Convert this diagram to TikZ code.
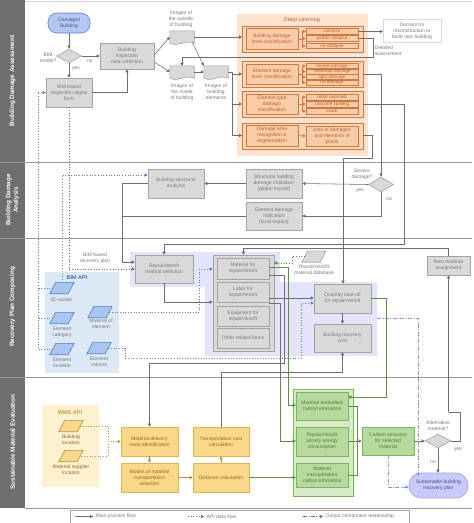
\documentclass[tikz,border=0pt]{standalone}
\usepackage{fontspec}
\setmainfont{Liberation Sans}
\usetikzlibrary{shapes.geometric,arrows.meta,calc}
\definecolor{lanebar}{HTML}{6E6E6E}
\definecolor{laneline}{HTML}{9A9A9A}
\definecolor{gfill}{HTML}{D9D9D9}
\definecolor{gdraw}{HTML}{A3A3A3}
\definecolor{gtext}{HTML}{7A7A7A}
\definecolor{arr}{HTML}{6E6E6E}
\definecolor{ocont}{HTML}{FCE4D1}
\definecolor{ogrp}{HTML}{F7CCA9}
\definecolor{odraw}{HTML}{D0773D}
\definecolor{otext}{HTML}{C0622A}
\definecolor{bfill}{HTML}{A9C6F2}
\definecolor{bdraw}{HTML}{4F81C7}
\definecolor{bcont}{HTML}{DCE8F6}
\definecolor{btext}{HTML}{3D6DB5}
\definecolor{yfill}{HTML}{F9D889}
\definecolor{ydraw}{HTML}{E3B54E}
\definecolor{ycont}{HTML}{FDF1CF}
\definecolor{ytext}{HTML}{8A6A20}
\definecolor{ydot}{HTML}{B8962E}
\definecolor{grfill}{HTML}{B6D9A0}
\definecolor{grdraw}{HTML}{7FB35C}
\definecolor{grcont}{HTML}{D8EBC9}
\definecolor{grtext}{HTML}{4F7F30}
\definecolor{grline}{HTML}{5E8F3E}
\definecolor{lav}{HTML}{E4E4FB}
\definecolor{pfill}{HTML}{CACAFA}
\definecolor{pdraw}{HTML}{9C9CEB}
\definecolor{ptext}{HTML}{4A4A9A}
\definecolor{dashc}{HTML}{8F8FE0}
\definecolor{dmgfill}{HTML}{B4C7F0}
\definecolor{dmgdraw}{HTML}{5C7FD0}
\tikzset{
  every node/.style={font=\fontsize{5}{5.8}\selectfont, align=center, inner sep=0.5pt},
  sz/.style n args={2}{minimum width=#1pt, minimum height=#2pt},
  gbox/.style={rectangle, draw=gdraw, fill=gfill, text=gtext, line width=0.6pt},
  obox/.style={rectangle, draw=odraw, fill=ogrp, text=otext, line width=0.6pt},
  osub/.style={rectangle, draw=odraw, fill=ogrp, text=otext, line width=0.6pt, font=\fontsize{4.6}{5}\selectfont, inner sep=0pt},
  ogrpst/.style={draw=odraw, fill=ogrp!80!white, line width=0.9pt},
  ybox/.style={rectangle, draw=ydraw, fill=yfill, text=ytext, line width=0.6pt},
  grbox/.style={rectangle, draw=grdraw, fill=grfill, text=grtext, line width=0.6pt},
  bparast/.style={draw=bdraw, fill=bfill, line width=0.6pt},
  yparast/.style={draw=ydraw!80!black, fill=yfill, line width=0.6pt},
  gparast/.style={draw=gdraw, fill=gfill, line width=0.6pt},
  gdia/.style={diamond, draw=gdraw, fill=gfill, line width=0.6pt, inner sep=0pt},
  lbl/.style={text=gtext},
  tip/.style={-{Triangle[length=3pt,width=3.2pt]}},
  flow/.style={draw=arr, line width=0.55pt, tip},
  lin/.style={draw=arr, line width=0.55pt},
  oflow/.style={draw=odraw, line width=0.55pt, tip},
  api/.style={draw=bdraw, line width=0.7pt, dotted, tip},
  apil/.style={draw=bdraw, line width=0.7pt, dotted},
  gapi/.style={draw=arr, line width=0.7pt, dotted, tip},
  yapi/.style={draw=ydot, line width=0.7pt, dotted, tip},
  yapil/.style={draw=ydot, line width=0.7pt, dotted},
  grflow/.style={draw=grline, line width=0.6pt, tip},
  grlin/.style={draw=grline, line width=0.6pt},
  outp/.style={draw=dashc, line width=0.7pt, dash pattern=on 4pt off 1.5pt on 0.8pt off 1.5pt, tip},
  laneln/.style={draw=laneline, line width=0.6pt},
  lanetxt/.style={text=white, rotate=90, font=\fontsize{6.3}{7.3}\selectfont\bfseries}
}
\newcommand\docnode[3]{%
  \node[sz={24}{12}, inner sep=0pt] (#1) at (#2,#3) {};
  \draw[draw=gdraw, fill=gfill, line width=0.6pt] (#1.south west) -- (#1.north west) -- (#1.north east) -- (#1.south east) .. controls +(-8,-4) and +(8,4) .. (#1.south west) -- cycle;}
\newcommand\paranode[4]{%
  \node[sz={18}{11}, inner sep=0pt] (#1) at (#2,#3) {};
  \draw[#4] ($(#1.south west)+(-3,0)$) -- ($(#1.north west)+(3,0)$) -- ($(#1.north east)+(3,0)$) -- ($(#1.south east)+(-3,0)$) -- cycle;}
\begin{document}
\begin{tikzpicture}[x=1pt,y=-1pt]
\useasboundingbox (0,0) rectangle (474,523);
% ---------- lanes ----------
\fill[lanebar] (0,0) rectangle (25,508);
\foreach \yy in {162,238,377} \draw[draw=lanebar!70!white, line width=0.5pt] (0,\yy) -- (25,\yy);
\foreach \yy in {162,238,377,508} \draw[laneln] (25,\yy) -- (472,\yy);
\draw[draw=laneline!40!white, line width=0.5pt] (25,1.5) -- (472,1.5);
\node[lanetxt] (l1) at (12.5,81) {Building Damage Assessment};
\node[lanetxt] (l2) at (12.5,200) {Building Damage\\Analysis};
\node[lanetxt] (l3) at (12.5,307) {Recovery Plan Composing};
\node[lanetxt] (l4) at (12.5,442) {Sustainable Material Evaluation};
% ---------- containers ----------
\fill[ocont] (237,14) rectangle (368,156);
\node[text=otext, font=\fontsize{5.5}{6}\selectfont] (dltitle) at (302,20) {Deep Learning};
\draw[ogrpst] (242,26) rectangle (363,52);
\draw[ogrpst] (242,61) rectangle (363,87);
\draw[ogrpst] (242,91) rectangle (363,117);
\draw[ogrpst] (242,123) rectangle (363,149);
\fill[bcont] (45,272) rectangle (119,373);
\node[text=btext, font=\fontsize{5.5}{6}\selectfont\bfseries] (bimapi) at (77,278) {BIM API};
\fill[ycont] (42,405) rectangle (99,487);
\node[text=ydraw!85!black, font=\fontsize{5.5}{6}\selectfont\bfseries] (wmsapi) at (70,413) {WMS API};
\fill[lav] (130,252) -- (280,252) -- (280,282) -- (377,282) -- (377,356) -- (205,356) -- (205,287) -- (130,287) -- cycle;
\draw[draw=grdraw, fill=grcont, line width=0.7pt] (293,389) rectangle (353,496);
% ---------- lane 1 nodes ----------
\node[rectangle, rounded corners=9pt, draw=dmgdraw, fill=dmgfill, text=dmgdraw!70!black, line width=0.6pt, sz={42}{20}] (dmg) at (69,23) {Damaged\\Building};
\node[gdia, sz={25}{14}] (bimq) at (69,56) {};
\node[lbl, anchor=east] (bimql) at (57,58) {BIM\\model?};
\node[lbl] (nol) at (90,61) {no};
\node[lbl] (yesl) at (76,69) {yes};
\node[gbox, sz={46}{29}] (form) at (69,92.5) {BIM based\\inspection digital\\form};
\node[gbox, sz={54}{26}] (coll) at (127,56) {Building\\inspection\\data collection};
\docnode{dout}{182}{37}
\docnode{din}{182}{72}
\docnode{del}{216}{72}
\node[lbl] (doutl) at (181,19) {Images of\\the outside\\of building};
\node[lbl] (dinl) at (182,92) {Images of\\the inside\\of building};
\node[lbl] (dell) at (216,92) {Images of\\building\\elements};
% deep learning boxes
\node[obox, sz={52}{21}] (bdl) at (272,39) {Building damage\\level classification};
\node[obox, sz={52}{20}] (edl) at (272,74) {Element damage\\level classification};
\node[obox, sz={52}{20}] (etd) at (272,104) {Element type\\damage\\classification};
\node[obox, sz={52}{21}] (dar) at (272,135.5) {Damage area\\recognition \&\\segmentation};
\node[osub, sz={52}{5.5}] (s11) at (332,31.5) {collapse};
\node[osub, sz={52}{5.5}] (s12) at (332,38.5) {partial collapse};
\node[osub, sz={52}{5.5}] (s13) at (332,46) {no collapse};
\node[osub, sz={52}{4.6}] (s21) at (332,66) {severe damage};
\node[osub, sz={52}{4.6}] (s22) at (332,71.5) {moderate damage};
\node[osub, sz={52}{4.6}] (s23) at (332,77) {light damage};
\node[osub, sz={52}{4.6}] (s24) at (332,82.5) {no damage};
\node[osub, sz={52}{5.8}] (s31) at (332,97) {rebar exposed};
\node[osub, sz={52}{5.8}] (s32) at (332,104) {concrete spalling};
\node[osub, sz={52}{5.8}] (s33) at (332,111) {crack};
\node[osub, sz={52}{20}, font=\fontsize{5}{5.8}\selectfont] (s41) at (332,136) {area of damages\\and elements in\\pixels};
\node[rectangle, draw=gdraw!40!white, line width=0.4pt, text=gtext, sz={58}{23}] (dec) at (412,31) {Decision to\\reconstruction or\\build new building};
\node[lbl, anchor=west, align=left] (detl) at (374,51) {Detailed\\assessment};
% ---------- lane 2 nodes ----------
\node[gbox, sz={56}{29}] (bsa) at (176,183.5) {Building structural\\analysis};
\node[gbox, sz={56}{29}] (sbd) at (274,183.5) {Structural building\\damage indication\\(global impact)};
\node[gbox, sz={56}{28}] (edi) at (274,216) {Element damage\\indication\\(local impact)};
\node[gdia, sz={25}{15}] (sev) at (381,184.5) {};
\node[lbl] (sevl) at (362,174) {Severe\\damage?};
\node[lbl] (sevy) at (360,191) {yes};
\node[lbl] (sevn) at (389,199) {no};
% ---------- lane 3 nodes ----------
\node[gbox, sz={58}{28}] (rms) at (164,269) {Repair/retrofit\\method selection};
\node[rectangle, draw=gdraw, fill=gfill, line width=0.6pt, sz={61}{96}] (mgrp) at (243.5,303) {};
\node[gbox, sz={52}{21}] (mfr) at (243,268.5) {Material for\\repair/retrofit};
\node[gbox, sz={52}{20}] (lfr) at (243,292) {Labor for\\repair/retrofit};
\node[gbox, sz={52}{20}] (efr) at (243,316) {Equipment for\\repair/retrofit};
\node[gbox, sz={52}{20}] (ori) at (243,338) {Other related items};
\paranode{rdb}{314}{256.5}{gparast}
\node[lbl] (rdbl) at (314,270) {Repair/retrofit\\material database};
\node[gbox, sz={57}{29}] (qto) at (342.5,298.5) {Quantity take-off\\for repair/retrofit};
\node[gbox, sz={57}{28}] (brc) at (342.5,338) {Building recovery\\cost};
\node[gbox, sz={43}{19}] (nma) at (448.5,265.5) {New material\\assignment};
% BIM API
\paranode{p3d}{62}{288}{bparast}
\paranode{pcat}{62}{318}{bparast}
\paranode{ploc}{62}{349}{bparast}
\paranode{pmat}{100}{312}{bparast}
\paranode{pvol}{99}{348}{bparast}
\node[lbl] (p3dl) at (61,300) {3D model};
\node[lbl] (pcatl) at (62,332) {Element\\category};
\node[lbl] (plocl) at (62,363) {Element\\location};
\node[lbl] (pmatl) at (101,324) {Material of\\element};
\node[lbl] (pvoll) at (99,362) {Element\\volume};
\node[lbl] (brpl) at (95,258) {BIM based\\recovery plan};
% ---------- lane 4 nodes ----------
\paranode{pbl}{71}{426}{yparast}
\paranode{pms}{71}{456}{yparast}
\node[text=ytext] (pbll) at (71,440) {Building\\location};
\node[text=ytext] (pmsl) at (71,470) {Material supplier\\location};
\node[ybox, sz={57}{29}] (mdr) at (149.5,441.5) {Material delivery\\route identification};
\node[ybox, sz={57}{29}] (mts) at (149.5,477.5) {Modes of material\\transportation\\selection};
\node[ybox, sz={56}{29}] (tcc) at (221,441.5) {Transportation cost\\calculation};
\node[ybox, sz={56}{29}] (dc) at (221,477.5) {Distance calculation};
\node[grbox, sz={52}{28}] (mec) at (322,406) {Material embodied\\carbon emissions};
\node[grbox, sz={52}{29}] (rae) at (322,441.5) {Repair/retrofit\\activity energy\\consumption};
\node[grbox, sz={52}{24}] (mtc) at (322,475) {Material\\transportation\\carbon emissions};
\node[grbox, sz={52}{28}] (cesm) at (388,441) {Carbon emission\\for selected\\material};
\node[gdia, sz={26}{14}] (alt) at (438,441) {};
\node[lbl] (altl) at (438,426) {Alternative\\material?};
\node[lbl] (alty) at (458,450) {yes};
\node[lbl] (altn) at (433,462) {no};
\node[rectangle, rounded corners=12pt, draw=pdraw, fill=pfill, text=ptext, line width=0.6pt, sz={59}{25}] (sbp) at (438.5,485.5) {Sustainable building\\recovery plan};
% ---------- connectors lane 1 ----------
\draw[flow] (dmg) -- (bimq);
\draw[flow] (bimq) -- (form);
\draw[flow] (bimq) -- (coll);
\draw[flow] (form.east) -| (coll.south);
\draw[flow] ($(coll.east)+(0,-1)$) -- (dout.west);
\draw[flow] ($(coll.east)+(0,6)$) -- (din.west);
\draw[flow] ($(dout.south east)+(-2,-1)$) -- (del.north west);
\draw[flow] (din.east) -- (del.west);
\draw[flow] (dout.east) -- (dout.east -| 242,0);
\draw[lin] (del.east) -- ++(4,0) coordinate (bus) -- (bus |- 0,136);
\draw[flow] (bus |- edl.west) -- (edl.west -| 242,0);
\draw[flow] (bus |- etd.west) -- (etd.west -| 242,0);
\draw[flow] (bus |- dar.west) -- (dar.west -| 242,0);
% orange internal arrows
\draw[draw=odraw, line width=0.55pt] (bdl.east) -- (302,39) (302,31.5) -- (302,46);
\foreach \s in {s11,s12,s13} \draw[oflow] (\s.west -| 302,0) -- (\s.west);
\draw[draw=odraw, line width=0.55pt] (edl.east) -- (302,74) (302,66) -- (302,82.5);
\foreach \s in {s21,s22,s23,s24} \draw[oflow] (\s.west -| 302,0) -- (\s.west);
\draw[draw=odraw, line width=0.55pt] (etd.east) -- (302,104) (302,97) -- (302,111);
\foreach \s in {s31,s32,s33} \draw[oflow] (\s.west -| 302,0) -- (\s.west);
\draw[oflow] (dar.east) -- (s41.west);
\draw[flow] (s11.east) -- (dec.west |- s11.east);
\draw[flow] (s12.east) -- (373,38.5) -- (373,57) -- (182,57) -- (din.north);
% from deep learning downward
\draw[flow] (edl.east -| 363,0) -- (381,74) -- (sev.north);
\draw[flow] (etd.east -| 363,0) -- (404,104) -- (404,244) -- (rms.north |- 0,244) -- (rms.north);
\draw[flow] (dar.east -| 363,0) -- (372,135.5) -- (372,158) -- (343,158) -- (qto.north -| 343,0);
% ---------- lane 2 connectors ----------
\draw[flow] (sev.west) -- (sbd.east);
\draw[flow] (sev.south) |- (edi.east);
\draw[flow] (sbd.west) -- (bsa.east);
\draw[lin] (bsa.west) -- (122,183.5) -- (122,262);
\draw[flow] (122,262) -- (rms.west |- 0,262);
\draw[lin] (edi.west) -- (122,216);
% ---------- lane 3 connectors ----------
\draw[flow] (rms.south) |- (mgrp.west |- 0,302);
\draw[flow] (lfr.east |- 0,298) -- (qto.west |- 0,298);
\draw[flow] (qto) -- (brc);
\draw[gapi] (rdb.west) -- (292,256.5) -- (292,263) -- (mgrp.east |- 0,263);
\draw[flow] (nma.north) -- (448.5,248) -- (243.5,248) -- (mgrp.north);
\draw[lin] (alt.east) -- (460,441) -- (460,412) -- (448.5,412);
\draw[flow] (448.5,412) -- (nma.south);
\draw[flow] (mfr.east |- 0,275) -- (284,275) -- (284,363) -- (149.5,363) -- (mdr.north);
\draw[grflow] (mfr.east |- 0,267) -- (288,267) -- (288,405) -- (mec.west |- 0,405);
\draw[lin] (lfr.east |- 0,303) -- (280,303) -- (280,377);
\draw[grflow] (280,377) -- (280,441) -- (rae.west |- 0,441);
% API flows
\draw[apil] (ploc.west) -- (38,349) -- (38,92.5);
\draw[api] (38,92.5) -- (form.west);
\draw[apil] (p3d.west) -- (38,288);
\draw[apil] (pcat.west) -- (38,318);
\draw[api] (p3d.north) -- (62,175) -- (bsa.west |- 0,175);
\draw[gapi] (form.south) -- (69,269) -- (rms.west |- 0,269);
\draw[api] (pmat.east) -- (199,312) -- (199,269) -- (mgrp.west |- 0,269);
\draw[api] (pvol.east) -- (125,348) -- (125,358) -- (301,358) -- (301,303) -- (qto.west |- 0,303);
% ---------- lane 4 connectors ----------
\draw[yapil] (pbl.east) -- (108,426) -- (108,456) -- (pms.east);
\draw[yapi] (108,441.5) -- (mdr.west);
\draw[flow, draw=ydraw!80!black] (mdr) -- (mts);
\draw[flow, draw=ydraw!80!black] (mts) -- (dc);
\draw[flow, draw=ydraw!80!black] (dc) -- (tcc);
\draw[flow] (tcc.north) -- (221,372) -- (342.5,372) -- (brc.south);
\draw[grflow] (dc.east) -- (mtc.west |- dc.east);
\draw[grflow] (qto.east) -- (386,298.5) -- (386,397) -- (mec.east |- 0,397);
\draw[grlin] (mec.east) -- (357,406) -- (357,475) -- (mtc.east);
\draw[grlin] (rae.east) -- (357,441.5);
\draw[grflow] (357,441) -- (cesm.west);
\draw[flow] (cesm.east) -- (alt.west);
\draw[flow] (alt.south) -- (sbp.north -| alt.south);
\draw[outp] (377,318) -- (418,318) -- (418,476);
\draw[outp] (cesm.south) -- (388,487) -- (sbp.west |- 0,487);
% ---------- legend ----------
\node[draw=gdraw, line width=0.5pt, fill=white, sz={339}{13}, inner sep=0pt] (leg) at (239.5,516.5) {};
\draw[flow] (75,516.5) -- (93,516.5);
\node[lbl, anchor=west] (lg1) at (95,516.5) {Main process flow};
\draw[gapi] (188,516.5) -- (204,516.5);
\node[lbl, anchor=west] (lg2) at (206,516.5) {API data flow};
\draw[outp, draw=arr] (303,516.5) -- (323,516.5);
\node[lbl, anchor=west] (lg3) at (325,516.5) {Output component relationship};
\end{tikzpicture}
\end{document}
